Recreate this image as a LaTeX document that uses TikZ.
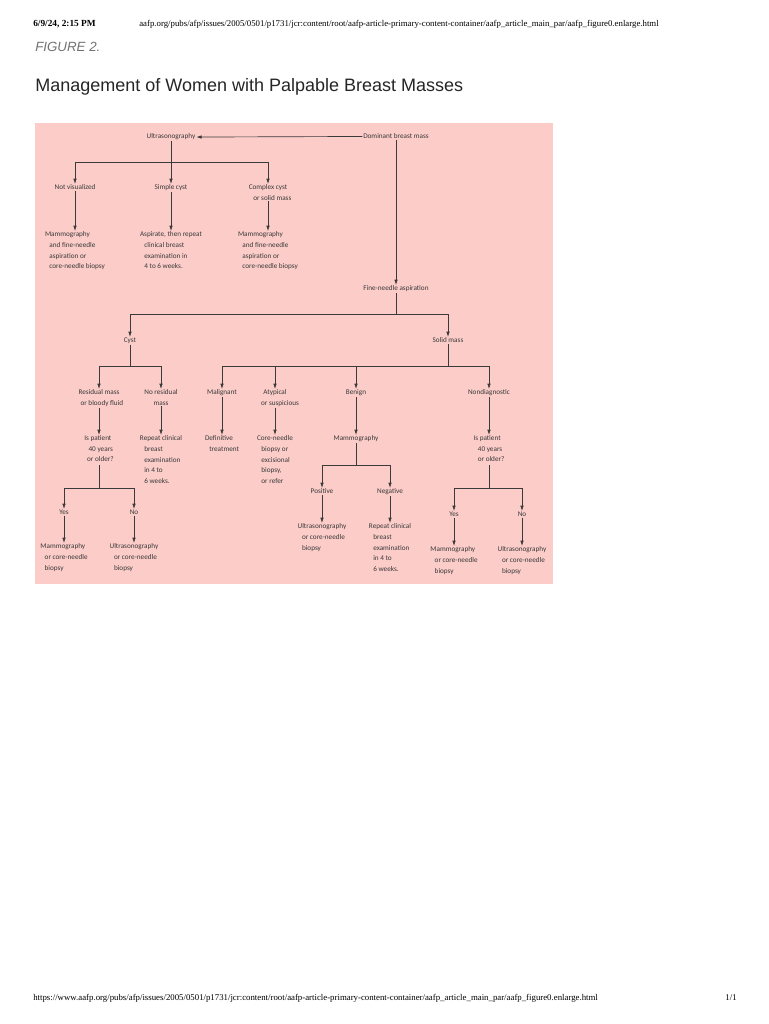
\documentclass[tikz,border=0pt]{standalone}
\usepackage{fontspec}
\setmainfont{Liberation Serif}
\newfontfamily\chartfont{Carlito}
\newfontfamily\titlefont{Liberation Sans}
\usetikzlibrary{arrows.meta}
\definecolor{pinkbg}{HTML}{FBCCC8}
\definecolor{ink}{HTML}{3A3A3A}
\begin{document}
\begin{tikzpicture}[x=0.75pt,y=-0.75pt,
  t/.style={anchor=north,inner sep=0.5pt,align=center,font=\chartfont\fontsize{5.4}{7.9}\selectfont,text=ink},
  tl/.style={t,align=left},
  ln/.style={draw=ink,line width=0.5pt},
  arr/.style={ln,-{Latex[length=4pt,width=2.6pt]}}]
\useasboundingbox (0,0) rectangle (768,1024);
\fill[white] (0,0) rectangle (768,1024);
\node[anchor=west,font=\fontsize{7}{8}\selectfont\bfseries,inner sep=0] (hd) at (33,24) {6/9/24, 2:15 PM};
\node[anchor=west,font=\fontsize{6.6}{8}\selectfont,inner sep=0] (url) at (139,24) {aafp.org/pubs/afp/issues/2005/0501/p1731/jcr:content/root/aafp-article-primary-content-container/aafp\_article\_main\_par/aafp\_figure0.enlarge.html};
\node[anchor=west,font=\fontsize{6.6}{8}\selectfont,inner sep=0] (ft) at (33,998) {https://www.aafp.org/pubs/afp/issues/2005/0501/p1731/jcr:content/root/aafp-article-primary-content-container/aafp\_article\_main\_par/aafp\_figure0.enlarge.html};
\node[anchor=east,font=\fontsize{6.6}{8}\selectfont,inner sep=0] (pg) at (737,998) {1/1};
\node[anchor=west,font=\titlefont\itshape\fontsize{10}{12}\selectfont,text=gray!90!black,inner sep=0] (fig) at (35,47) {FIGURE 2.};
\node[anchor=west,font=\titlefont\fontsize{13.5}{16}\selectfont,text=black!85,inner sep=0] (title) at (35,87) {Management of Women with Palpable Breast Masses};
\fill[pinkbg] (35,123) rectangle (553,584);
% coordinates for bars
\coordinate (y1) at (0,162);
\coordinate (y2) at (0,314);
\coordinate (y3) at (0,366);
\coordinate (y4) at (0,488);
\coordinate (y5) at (0,465);
% nodes
\node[t] (us) at (171,133) {Ultrasonography};
\node[t] (dm) at (396,133) {Dominant breast mass};
\node[t] (nv) at (75,184) {Not visualized};
\node[t] (sc) at (171,184) {Simple cyst};
\node[t] (cc) at (268,184) {Complex cyst\\\hspace*{1.2em}or solid mass};
\node[tl] (nvr) at (75,231) {Mammography\\\hspace*{0.6em}and fine-needle\\\hspace*{0.6em}aspiration or\\\hspace*{0.6em}core-needle biopsy};
\node[tl] (scr) at (171,231) {Aspirate, then repeat\\\hspace*{0.6em}clinical breast\\\hspace*{0.6em}examination in\\\hspace*{0.6em}4 to 6 weeks.};
\node[tl] (ccr) at (268,231) {Mammography\\\hspace*{0.6em}and fine-needle\\\hspace*{0.6em}aspiration or\\\hspace*{0.6em}core-needle biopsy};
\node[t] (fna) at (396,285) {Fine-needle aspiration};
\node[t] (cy) at (130,337) {Cyst};
\node[t] (sm) at (448,337) {Solid mass};
\node[t] (rm) at (99,389) {Residual mass\\\hspace*{0.8em}or bloody fluid};
\node[t] (nr) at (161,389) {No residual\\mass};
\node[t] (ma) at (222,389) {Malignant};
\node[t] (at) at (275,389) {Atypical\\\hspace*{1.4em}or suspicious};
\node[t] (be) at (356,389) {Benign};
\node[t] (nd) at (489,389) {Nondiagnostic};
\node[tl] (ip1) at (99,435) {Is patient\\\hspace*{0.6em}40 years\\\hspace*{0.4em}or older?};
\node[tl] (rc1) at (161,435) {Repeat clinical\\\hspace*{0.6em}breast\\\hspace*{0.6em}examination\\\hspace*{0.6em}in 4 to\\\hspace*{0.6em}6 weeks.};
\node[tl] (dt) at (222,435) {Definitive\\\hspace*{0.6em}treatment};
\node[tl] (cn) at (275,435) {Core-needle\\\hspace*{0.6em}biopsy or\\\hspace*{0.6em}excisional\\\hspace*{0.6em}biopsy,\\\hspace*{0.6em}or refer};
\node[t] (mg) at (356,435) {Mammography};
\node[tl] (ip2) at (489,435) {Is patient\\\hspace*{0.6em}40 years\\\hspace*{0.6em}or older?};
\node[t] (y1n) at (64,509) {Yes};
\node[t] (n1n) at (134,509) {No};
\node[tl] (m1) at (64,543) {Mammography\\\hspace*{0.6em}or core-needle\\\hspace*{0.6em}biopsy};
\node[tl] (u1) at (134,543) {Ultrasonography\\\hspace*{0.6em}or core-needle\\\hspace*{0.6em}biopsy};
\node[t] (po) at (322,488) {Positive};
\node[t] (ne) at (390,488) {Negative};
\node[tl] (u2) at (322,523) {Ultrasonography\\\hspace*{0.6em}or core-needle\\\hspace*{0.6em}biopsy};
\node[tl] (rc2) at (390,523) {Repeat clinical\\\hspace*{0.6em}breast\\\hspace*{0.6em}examination\\\hspace*{0.6em}in 4 to\\\hspace*{0.6em}6 weeks.};
\node[t] (y2n) at (454,511) {Yes};
\node[t] (n2n) at (522,511) {No};
\node[tl] (m2) at (454,546) {Mammography\\\hspace*{0.6em}or core-needle\\\hspace*{0.6em}biopsy};
\node[tl] (u3) at (522,546) {Ultrasonography\\\hspace*{0.6em}or core-needle\\\hspace*{0.6em}biopsy};
% connectors
\draw[arr] (dm.west) -- (us.east);
\draw[ln] (us.south) -- (us|-y1);
\draw[ln] (nv|-y1) -- (cc|-y1);
\foreach \n in {nv,sc,cc} \draw[arr] (\n|-y1) -- (\n.north);
\draw[arr] (nv.south) -- (nvr.north);
\draw[arr] (sc.south) -- (scr.north);
\draw[arr] (cc.south) -- (ccr.north);
\draw[arr] (dm.south) -- (fna.north);
\draw[ln] (fna.south) -- (fna|-y2);
\draw[ln] (cy|-y2) -- (sm|-y2);
\draw[arr] (cy|-y2) -- (cy.north);
\draw[arr] (sm|-y2) -- (sm.north);
\draw[ln] (cy.south) -- (cy|-y3);
\draw[ln] (rm|-y3) -- (nr|-y3);
\draw[arr] (rm|-y3) -- (rm.north);
\draw[arr] (nr|-y3) -- (nr.north);
\draw[ln] (sm.south) -- (sm|-y3);
\draw[ln] (ma|-y3) -- (nd|-y3);
\foreach \n in {ma,at,be,nd} \draw[arr] (\n|-y3) -- (\n.north);
\draw[arr] (rm.south) -- (rm|-ip1.north);
\draw[arr] (nr.south) -- (nr|-rc1.north);
\draw[arr] (ma.south) -- (ma|-dt.north);
\draw[arr] (at.south) -- (at|-cn.north);
\draw[arr] (be.south) -- (mg.north);
\draw[arr] (nd.south) -- (nd|-ip2.north);
\draw[ln] (99,465) -- (99,488);
\draw[ln] (y1n|-y4) -- (n1n|-y4);
\draw[arr] (y1n|-y4) -- (y1n.north);
\draw[arr] (n1n|-y4) -- (n1n.north);
\draw[arr] (y1n.south) -- (y1n|-m1.north);
\draw[arr] (n1n.south) -- (n1n|-u1.north);
\draw[ln] (mg.south) -- (mg|-y5);
\draw[ln] (po|-y5) -- (ne|-y5);
\draw[arr] (po|-y5) -- (po.north);
\draw[arr] (ne|-y5) -- (ne.north);
\draw[arr] (po.south) -- (po|-u2.north);
\draw[arr] (ne.south) -- (ne|-rc2.north);
\draw[ln] (489,465) -- (489,488);
\draw[ln] (y2n|-y4) -- (n2n|-y4);
\draw[arr] (y2n|-y4) -- (y2n.north);
\draw[arr] (n2n|-y4) -- (n2n.north);
\draw[arr] (y2n.south) -- (y2n|-m2.north);
\draw[arr] (n2n.south) -- (n2n|-u3.north);
\end{tikzpicture}
\end{document}
